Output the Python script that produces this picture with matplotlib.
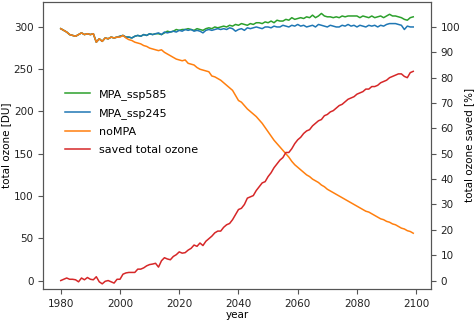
import numpy as np
import matplotlib
matplotlib.use("Agg")
import matplotlib.pyplot as plt

years = np.arange(1980, 2100)

# noMPA total ozone [DU]
nompa = [298, 296, 294, 291, 290, 289, 291, 293, 291, 292,
         291, 292, 282, 286, 283, 287, 286, 288, 287, 288,
         288, 290, 287, 285, 284, 282, 281, 280, 278, 277,
         275, 274, 273, 272, 273, 270, 268, 266, 264, 262,
         261, 260, 261, 257, 256, 255, 252, 250, 249, 248,
         247, 242, 241, 239, 237, 234, 231, 228, 225, 219,
         213, 211, 207, 203, 200, 197, 194, 190, 186, 181,
         176, 171, 166, 162, 158, 154, 150, 146, 141, 137,
         134, 131, 128, 125, 123, 120, 118, 116, 113, 111,
         108, 106, 104, 102, 100, 98, 96, 94, 92, 90,
         88, 86, 84, 82, 81, 79, 77, 75, 73, 72,
         70, 69, 67, 66, 64, 62, 61, 59, 58, 56]

# MPA_ssp245 total ozone [DU]
ssp245 = [298, 296, 294, 291, 290, 289, 291, 293, 291, 292,
          291, 292, 282, 286, 283, 287, 286, 288, 287, 288,
          289, 290, 288, 288, 287, 289, 290, 289, 291, 290,
          292, 291, 292, 293, 291, 294, 293, 294, 295, 294,
          296, 295, 297, 296, 297, 295, 296, 295, 293, 296,
          297, 296, 297, 298, 297, 298, 297, 299, 298, 295,
          297, 298, 296, 299, 298, 299, 300, 299, 298, 300,
          300, 299, 301, 300, 300, 302, 301, 300, 302, 301,
          303, 301, 302, 300, 301, 302, 300, 303, 302, 301,
          300, 302, 301, 300, 300, 302, 301, 303, 301, 302,
          300, 302, 301, 300, 302, 301, 302, 300, 302, 301,
          303, 304, 304, 304, 303, 302, 297, 301, 300, 300]

# MPA_ssp585 total ozone [DU]
ssp585 = [298, 296, 294, 291, 290, 289, 291, 293, 291, 292,
          291, 292, 282, 286, 283, 287, 286, 288, 287, 288,
          289, 290, 288, 288, 287, 289, 290, 289, 291, 290,
          292, 291, 292, 292, 291, 293, 295, 294, 295, 297,
          296, 297, 297, 298, 297, 296, 298, 297, 296, 298,
          299, 298, 300, 299, 300, 301, 300, 302, 301, 303,
          302, 304, 303, 302, 304, 303, 305, 305, 304, 306,
          305, 307, 305, 308, 307, 307, 309, 308, 311, 309,
          310, 311, 310, 312, 311, 314, 311, 313, 316, 313,
          312, 312, 311, 312, 311, 313, 312, 313, 313, 313,
          313, 311, 313, 312, 311, 313, 311, 312, 313, 311,
          313, 315, 313, 313, 312, 311, 309, 308, 311, 312]

# saved total ozone [%]
saved = [0, 0.5, 1, 0.5, 0.5, 0.3, -0.5, 1, 0.3, 1.2,
         0.5, 0.3, 1.5, -0.5, -1.3, -0.3, 0, -0.5, -1, 0.5,
         0.5, 2.5, 3, 3.2, 3.2, 3.2, 4.5, 4.5, 5, 5.8,
         6.3, 6.5, 6.8, 5.3, 7.8, 9, 8.5, 8.2, 9.5, 10.2,
         11.3, 10.8, 11, 12, 12.7, 14, 13.5, 14.8, 13.8, 15.5,
         16.5, 17.5, 18.8, 19.5, 19.5, 21, 22, 22.5, 24, 26,
         28, 28.5, 30, 32.5, 33, 33.5, 35.5, 37, 38.5, 39,
         41, 42.5, 44.5, 46, 47.5, 48.5, 50.5, 50.5, 52, 54,
         55.5, 56.5, 58, 59, 59.5, 61, 62, 63, 63.5, 65,
         65.5, 66.5, 67, 68, 69, 69.5, 70.5, 71.5, 72, 72.5,
         73.5, 74, 74.5, 75.5, 75.5, 76.5, 76.5, 77, 78, 78.5,
         79, 80, 80.5, 81, 81.5, 81.5, 80.5, 80, 82, 82.5]

plt.rcParams['font.family'] = ['DejaVu Sans']
plt.rcParams['font.size'] = 7.5

fig = plt.figure(figsize=(4.74, 3.22), dpi=100)
ax = fig.add_axes([0.091, 0.1025, 0.818, 0.8925])
ax2 = ax.twinx()

l1, = ax.plot(years, ssp585, color="tab:green", lw=1.1, label="MPA_ssp585")
l2, = ax.plot(years, ssp245, color="tab:blue", lw=1.1, label="MPA_ssp245")
l3, = ax.plot(years, nompa, color="tab:orange", lw=1.1, label="noMPA")
l4, = ax2.plot(years, saved, color="tab:red", lw=1.1, label="saved total ozone")

ax.set_ylim(-10, 330)
ax2.set_ylim(-10 / 3, 110)
ax.set_xticks([1980, 2000, 2020, 2040, 2060, 2080, 2100])
ax.set_yticks([0, 50, 100, 150, 200, 250, 300])
ax2.set_yticks(np.arange(0, 101, 10))

ax.set_xlabel("year", labelpad=1)
ax.set_ylabel("total ozone [DU]", labelpad=2)
ax2.set_ylabel("total ozone saved [%]", labelpad=3)

for a in (ax, ax2):
    for s in a.spines.values():
        s.set_color("#555555")
    a.tick_params(colors="#555555", labelcolor="#222222", length=3.5)

ax.legend(handles=[l1, l2, l3, l4], loc="upper left",
          bbox_to_anchor=(0.03, 0.73), frameon=False, fontsize=8,
          handlelength=2.3, labelspacing=0.72)

fig.savefig("out.png", dpi=100)
